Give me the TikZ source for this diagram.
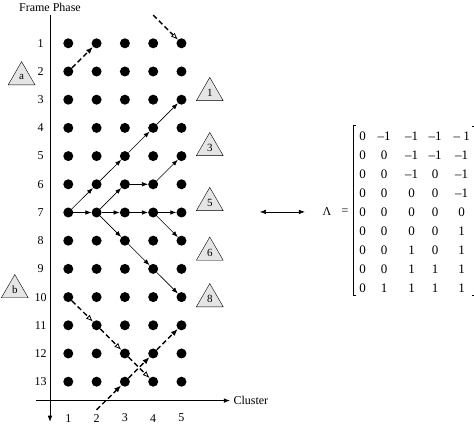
\documentclass[tikz,border=0pt]{standalone}
\usepackage{fontspec}
\setmainfont{Liberation Serif}
\usepackage{tikz}
\usetikzlibrary{arrows.meta,shapes.geometric}

\begin{document}
\begin{tikzpicture}[>={Latex[length=6pt,width=4.5pt]},x=28.3pt,y=-28.2pt,
        font=\fontsize{12}{14}\selectfont,
        dot/.style={circle,fill=black,inner sep=0pt,minimum size=10pt},
        tag/.style={regular polygon,regular polygon sides=3,draw,fill=black!10,
            inner sep=0pt,minimum size=31pt,font=\fontsize{11}{13}\selectfont},
        link/.style={->,line width=0.6pt},
        hop/.style={-{Latex[length=7pt,width=5.5pt]},line width=1.4pt,dash pattern=on 5pt off 3pt},
        hopopen/.style={-{Latex[open,fill=white,length=7pt,width=5.5pt,line width=0.8pt]},line width=1.4pt,dash pattern=on 5pt off 3pt}]
        \useasboundingbox (-1.413,-0.535) rectangle (15.336,15.067);
        % axes
        \draw[->,line width=0.6pt](0.353,0)node[above]{Frame Phase}--(0.353,14.42);
        \draw[->,line width=0.6pt](-0.15,13.67)--(6.71,13.67)node[right]{Cluster};
        \foreach \r in {1,...,13} \node (y\r) at (0.02,\r) {\r};
        \foreach \c in {1,...,5} \node (x\c) at (\c,14.29) {\c};
        % grid of dots
        \foreach \c in {1,...,5}
            \foreach \r in {1,...,13}
                \node[dot] (p\c-\r) at (\c,\r) {};
        % tags
        \node[tag] (ta) at (-0.65,2.2) {a};
        \node[tag] (tb) at (-0.89,9.75) {b};
        \node[tag] (t1) at (6,2.76) {1};
        \node[tag] (t3) at (6,4.71) {3};
        \node[tag] (t5) at (6,6.66) {5};
        \node[tag] (t6) at (6,8.42) {6};
        \node[tag] (t8) at (6,10.07) {8};
        % solid paths
        \foreach \a/\b in {p1-7/p2-6,p2-6/p3-5,p3-5/p4-4,p4-4/p5-3,
            p1-7/p2-7,p2-7/p3-7,p3-7/p4-7,p4-7/p5-7,
            p2-7/p3-6,p3-6/p4-6,p4-6/p5-5,
            p2-7/p3-8,p3-8/p4-9,p4-9/p5-10,p4-7/p5-8}
            \draw[link] (\a) -- (\b);
        % dashed paths
        \coordinate (s1) at (4,0);
        \coordinate (s2) at (2,14);
        \foreach \a/\b in {p1-2/p2-1,s2/p3-13,p3-13/p4-12,p4-12/p5-11}
            \draw[hop] (\a) -- (\b);
        \foreach \a/\b in {s1/p5-1,p1-10/p2-11,p2-11/p3-12,p3-12/p4-13}
            \draw[hopopen] (\a) -- (\b);
        % matrix
        \coordinate (ml) at (7.77,6.98);
        \coordinate (mr) at (9.36,6.98);
        \draw[<->,line width=0.6pt] (ml) -- (mr);
        \node (lam) at (10.14,6.98) {Λ};
        \node (eq) at (10.78,6.98) {=};
        \def\matx{{11.40,12.16,13.13,13.96,14.90}}
        \foreach \vals [count=\i] in {{0,–1,–1,–1,– 1},{0,0,–1,–1,–1},{0,0,–1,0,–1},
            {0,0,0,0,–1},{0,0,0,0,0},{0,0,0,0,1},{0,0,1,0,1},{0,0,1,1,1},{0,1,1,1,1}}
            \foreach \v [count=\j] in \vals
                \node[font=\fontsize{13}{15}\selectfont] (m\i-\j) at ({\matx[\j-1]},{4.31+0.67*(\i-1)}) {\v};
        \draw[line width=0.5pt] (11.17,3.90)--(11.06,3.90)--(11.06,9.93)--(11.17,9.93);
        \draw[line width=0.5pt] (15.26,3.95)--(15.37,3.95)--(15.37,9.93)--(15.26,9.93);
    \end{tikzpicture}
\end{document}
